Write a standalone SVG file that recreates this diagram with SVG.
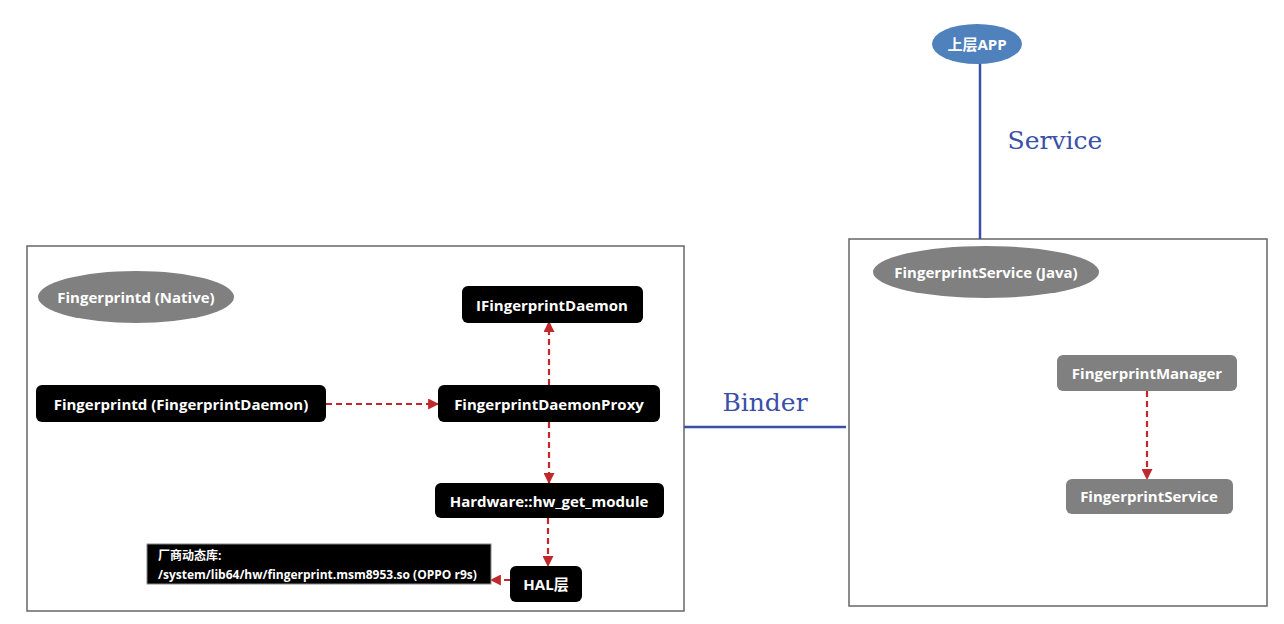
<svg xmlns="http://www.w3.org/2000/svg" width="1284" height="624" viewBox="0 0 1284 624">
<style>
text{font-family:"Open Sans","Noto Sans CJK SC",sans-serif;font-weight:bold;fill:#fff;font-size:15px;text-anchor:middle;dominant-baseline:central}
.blk{fill:#000;rx:6}
.gry{fill:#808080}
.frame{fill:#fff;stroke:#666;stroke-width:1.5}
.dash{stroke:#c0282c;stroke-width:2.2;stroke-dasharray:6,4;fill:none;marker-end:url(#ar)}
.blue{stroke:#3a4fa8;stroke-width:2.5;fill:none}
.lbl{font-family:"DejaVu Serif",serif;font-weight:normal;fill:#3a4fa8;font-size:25px}
</style>
<defs><marker id="ar" viewBox="0 0 10 10" refX="9" refY="5" markerWidth="5" markerHeight="5" orient="auto"><path d="M0,0L10,5L0,10z" fill="#c0282c"/></marker></defs>
<rect width="1284" height="624" fill="#fff"/>
<g id="frames">
<rect class="frame" x="27" y="246" width="657" height="365"/>
<rect class="frame" x="849" y="239" width="418" height="367"/>
</g>
<g id="connectors">
<line class="blue" x1="980" y1="62" x2="980" y2="239"/>
<line class="blue" x1="684" y1="427" x2="846" y2="427"/>
<text class="lbl" x="1055" y="140">Service</text>
<text class="lbl" x="765" y="402">Binder</text>
<path class="dash" d="M326,404H438"/>
<path class="dash" d="M549,385V322"/>
<path class="dash" d="M549,422V483"/>
<path class="dash" d="M548,518V566"/>
<path class="dash" d="M510,580H491"/>
<path class="dash" d="M1147,391V479"/>
</g>
<g id="app"><ellipse cx="977" cy="44" rx="45" ry="20" fill="#4f81bd"/><text x="977" y="44">上层APP</text></g>
<g id="fpd"><ellipse cx="136" cy="297" rx="98" ry="26" class="gry"/><text x="136" y="297">Fingerprintd (Native)</text></g>
<g id="fps"><ellipse cx="986" cy="272" rx="113" ry="26" class="gry"/><text x="986" y="272">FingerprintService (Java)</text></g>
<g id="ifd"><rect class="blk" x="462" y="286" width="181" height="37"/><text x="552" y="305">IFingerprintDaemon</text></g>
<g id="fdm"><rect class="blk" x="36" y="385" width="290" height="37"/><text x="181" y="404">Fingerprintd (FingerprintDaemon)</text></g>
<g id="proxy"><rect class="blk" x="438" y="385" width="222" height="37"/><text x="549" y="404">FingerprintDaemonProxy</text></g>
<g id="hw"><rect class="blk" x="435" y="483" width="229" height="35"/><text x="549" y="501">Hardware::hw_get_module</text></g>
<g id="hal"><rect class="blk" x="510" y="566" width="72" height="36"/><text x="546" y="584">HAL层</text></g>
<g id="lib"><rect x="147" y="544" width="344" height="40" fill="#000" stroke="#888"/>
<text x="158" y="555" style="text-anchor:start;font-size:12px">厂商动态库:</text>
<text x="158" y="574" style="text-anchor:start;font-size:12px">/system/lib64/hw/fingerprint.msm8953.so (OPPO r9s)</text></g>
<g id="fm"><rect class="gry" x="1057" y="355" width="180" height="36" rx="6"/><text x="1147" y="373">FingerprintManager</text></g>
<g id="fsv"><rect class="gry" x="1066" y="479" width="167" height="35" rx="6"/><text x="1149" y="496">FingerprintService</text></g>
</svg>
